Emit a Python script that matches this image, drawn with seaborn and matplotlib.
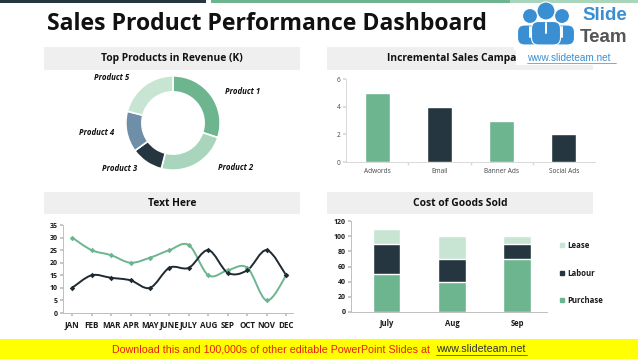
import numpy as np
import pandas as pd
import seaborn as sns
import matplotlib.pyplot as plt
from matplotlib.patches import Rectangle, Circle, FancyBboxPatch, PathPatch
from matplotlib.path import Path
from matplotlib.lines import Line2D

# data
products = ["Product 1", "Product 2", "Product 3", "Product 4", "Product 5"]
revenue = [30, 24, 11, 14, 21]

campaigns = ["Adwords", "Email", "Banner Ads", "Social Ads"]
campaign_sales = [5, 4, 3, 2]

months = ["JAN", "FEB", "MAR", "APR", "MAY", "JUNE", "JULY", "AUG", "SEP", "OCT", "NOV", "DEC"]
series_green = [30, 25, 23, 20, 22, 25, 27, 15, 17, 18, 5, 15]
series_dark = [10, 15, 14, 13, 10, 18, 18, 25, 16, 17, 25, 15]

cogs_months = ["July", "Aug", "Sep"]
purchase = [50, 40, 70]
labour = [40, 30, 20]
lease = [20, 30, 10]

GREEN = "#6db58f"
LIGHT = "#a8d5bb"
PALE = "#c8e5d4"
DARK = "#263640"
STEEL = "#6f8ea8"
HEAD = "#efefef"

sns.set_theme(style="white")
plt.rcParams["font.family"] = ["Open Sans", "DejaVu Sans"]

W, H = 638, 359
fig = plt.figure(figsize=(W / 100, H / 100), dpi=100)


def rect(x0, y0, x1, y1):
    return [x0 / W, 1 - y1 / H, (x1 - x0) / W, (y1 - y0) / H]


def ftext(x, y, s, **kw):
    return fig.text(x / W, 1 - y / H, s, **kw)


def fbox(x0, y0, x1, y1, color):
    fig.patches.append(Rectangle((x0 / W, 1 - y1 / H), (x1 - x0) / W, (y1 - y0) / H,
                                 transform=fig.transFigure, color=color, lw=0, zorder=0))


# top colour strip
fbox(0, 0, 206, 3, DARK)
fbox(211, 0, 510, 3, GREEN)
fbox(510, 0, 638, 3, "#a9d6bb")

ftext(47, 24, "Sales Product Performance Dashboard", fontsize=16.6, fontweight="bold",
      va="center", ha="left", color="#111111")

# panel headers
headers = [(44, 47, 300, 70, "Top Products in Revenue (K)"),
           (327, 47, 593, 70, "Incremental Sales Campaign"),
           (44, 192, 300, 214, "Text Here"),
           (327, 192, 593, 214, "Cost of Goods Sold")]
for x0, y0, x1, y1, t in headers:
    fbox(x0, y0, x1, y1, HEAD)
    ftext((x0 + x1) / 2, (y0 + y1) / 2 + 0.5, t, fontsize=7.4, fontweight="bold",
          ha="center", va="center", color="#111111")

# donut
ax1 = fig.add_axes(rect(123.5, 73.5, 222.5, 172.5))
ax1.pie(revenue, colors=[GREEN, LIGHT, DARK, STEEL, PALE], startangle=90, counterclock=False,
        wedgeprops=dict(width=0.34, edgecolor="white", linewidth=1.2))
ax1.set_xlim(-1.05, 1.05)
ax1.set_ylim(-1.05, 1.05)
cx, cy, r = 173, 123, 47
label_pos = [(242, 92), (235, 167), (120, 168), (97, 132), (112, 78)]
for name, (lx, ly) in zip(products, label_pos):
    ax1.text((lx - cx) / r, (cy - ly) / r, name, fontsize=5.7, fontweight="bold",
             fontstyle="italic", ha="center", va="center", color="#111111")

# incremental sales bars
ax2 = fig.add_axes(rect(346, 79, 595, 162))
df2 = pd.DataFrame({"campaign": campaigns, "sales": campaign_sales})
sns.barplot(data=df2, x="campaign", y="sales", hue="campaign", saturation=1,
            palette=[GREEN, DARK, GREEN, DARK], width=0.4, legend=False, ax=ax2)
ax2.set_ylim(0, 6)
ax2.set_xlim(-0.5, 3.5)
ax2.set_yticks([0, 2, 4, 6])
ax2.set_xlabel("")
ax2.set_ylabel("")
ax2.set_xticks(range(4))
ax2.set_xticklabels(campaigns)
ax2.set_xticks([0.5, 1.5, 2.5], minor=True)
for s in ["top", "right"]:
    ax2.spines[s].set_visible(False)
for s in ["left", "bottom"]:
    ax2.spines[s].set_color("#d9d9d9")
    ax2.spines[s].set_linewidth(0.7)
ax2.tick_params(axis="both", labelsize=4.7, labelcolor="#444444", pad=2)
ax2.tick_params(axis="y", length=2, color="#d9d9d9", left=True)
ax2.tick_params(axis="x", which="major", length=0, pad=4)
ax2.tick_params(axis="x", which="minor", length=2.5, color="#d9d9d9", bottom=True)

# line chart with smooth curves
ax3 = fig.add_axes(rect(63, 225, 293, 313))
x = np.arange(len(months))
for vals, col in [(series_green, GREEN), (series_dark, "#1e2a30")]:
    pts = np.column_stack([x, vals]).astype(float)
    verts = [pts[0]]
    codes = [Path.MOVETO]
    for i in range(len(pts) - 1):
        p0 = pts[max(i - 1, 0)]
        p1 = pts[i]
        p2 = pts[i + 1]
        p3 = pts[min(i + 2, len(pts) - 1)]
        verts += [p1 + (p2 - p0) / 6, p2 - (p3 - p1) / 6, p2]
        codes += [Path.CURVE4] * 3
    ax3.add_patch(PathPatch(Path(verts, codes), fill=False, edgecolor=col, lw=1.4))
    df3 = pd.DataFrame({"m": x, "v": vals})
    sns.lineplot(data=df3, x="m", y="v", ax=ax3, marker="D", markersize=2.8, color=col,
                 markeredgewidth=0, linestyle="none")
ax3.set_xlim(-0.47, 11.35)
ax3.set_ylim(0, 35)
ax3.set_yticks(range(0, 36, 5))
ax3.set_xticks(x)
ax3.set_xticklabels(months)
ax3.set_xlabel("")
ax3.set_ylabel("")
for s in ["top", "right"]:
    ax3.spines[s].set_visible(False)
for s in ["left", "bottom"]:
    ax3.spines[s].set_color("#bfbfbf")
    ax3.spines[s].set_linewidth(0.7)
ax3.tick_params(axis="both", length=2, color="#bfbfbf", left=True, bottom=True, pad=2)
ax3.tick_params(axis="y", labelsize=5)
ax3.tick_params(axis="x", labelsize=5.8, pad=4)
for lab in ax3.get_xticklabels() + ax3.get_yticklabels():
    lab.set_fontweight("bold")
    lab.set_color("#1a1a1a")

# cost of goods stacked bars
ax4 = fig.add_axes(rect(351, 221, 547, 312))
df4 = pd.DataFrame({"month": cogs_months,
                    "Purchase": purchase, "Labour": labour, "Lease": lease})
df4["top1"] = df4["Purchase"] + df4["Labour"]
df4["top2"] = df4["top1"] + df4["Lease"]
sns.barplot(data=df4, x="month", y="top2", color=PALE, width=0.42, saturation=1, ax=ax4)
sns.barplot(data=df4, x="month", y="top1", color=DARK, width=0.42, saturation=1, ax=ax4)
sns.barplot(data=df4, x="month", y="Purchase", color=GREEN, width=0.42, saturation=1, ax=ax4)
ax4.set_ylim(0, 120)
ax4.set_xlim(-0.55, 2.46)
ax4.set_yticks(range(0, 121, 20))
ax4.set_xlabel("")
ax4.set_ylabel("")
for s in ["top", "right"]:
    ax4.spines[s].set_visible(False)
for s in ["left", "bottom"]:
    ax4.spines[s].set_color("#bfbfbf")
    ax4.spines[s].set_linewidth(0.7)
ax4.tick_params(axis="both", length=2, color="#bfbfbf", left=True, pad=2)
ax4.tick_params(axis="x", length=0, labelsize=5.5, pad=5)
ax4.tick_params(axis="y", labelsize=5)
for lab in ax4.get_xticklabels() + ax4.get_yticklabels():
    lab.set_fontweight("bold")
    lab.set_color("#1a1a1a")
handles = [Line2D([], [], marker="s", ls="none", color=c, markersize=3.5)
           for c in [PALE, DARK, GREEN]]
leg = ax4.legend(handles, ["Lease", "Labour", "Purchase"], loc="center left",
                 bbox_to_anchor=(556 / W, 1 - 273 / H), bbox_transform=fig.transFigure,
                 frameon=False, fontsize=5.6, labelspacing=2.4, handletextpad=0.2,
                 handlelength=0.8, borderaxespad=0)
for t in leg.get_texts():
    t.set_fontweight("bold")
    t.set_color("#1a1a1a")

# logo (drawn above the header boxes)
lax = fig.add_axes(rect(512, 0, 638, 70))
lax.set_zorder(10)
lax.patch.set_alpha(0)
lax.set_xlim(512, 638)
lax.set_ylim(70, 0)
lax.axis("off")
lax.add_patch(Rectangle((514, 4), 124, 46, color="white", lw=0))
lax.add_patch(Rectangle((516, 50), 114, 15, color="white", lw=0))
BLUE = "#3a8fd3"
for hx, hy, hr, bw in [(530, 16, 7.5, 25), (562, 16, 7.5, 25), (546, 11, 9, 29)]:
    lax.add_patch(FancyBboxPatch((hx - bw / 2, hy + hr + 1.5), bw, 45 - hy - hr - 1.5,
                                 boxstyle="round,pad=0,rounding_size=7", fc=BLUE,
                                 ec="white", lw=0.8))
    lax.add_patch(Circle((hx, hy), hr, fc=BLUE, ec="white", lw=0.8))
    lax.plot([hx, hx], [hy + hr + 3, hy + hr + 13], color="white", lw=1.4)
lax.text(582, 15, "Slide", fontsize=13.5, fontweight="bold", color=BLUE, va="center",
         family=["Liberation Sans", "DejaVu Sans"])
lax.text(580, 38, "Team", fontsize=13.5, fontweight="bold", color="#555555", va="center",
         family=["Liberation Sans", "DejaVu Sans"])
lax.text(527, 58, "www.slideteam.net", fontsize=7.2, color=BLUE, va="center",
         family=["Liberation Sans", "DejaVu Sans"])
lax.plot([527, 616], [62.5, 62.5], color=BLUE, lw=0.5)

# bottom banner
fbox(0, 339, 638, 359, "#ffff00")
ftext(433, 349, "Download this and 100,000s of other editable PowerPoint Slides at ",
      fontsize=7.7, color="#e8200f", ha="right", va="center",
      family=["Liberation Sans", "DejaVu Sans"])
ftext(436, 349, "www.slideteam.net", fontsize=7.7, color="#333333", ha="left", va="center",
      family=["Liberation Sans", "DejaVu Sans"])
fig.add_artist(Line2D([436 / W, 527 / W], [1 - 354.5 / H, 1 - 354.5 / H], color="#333333", lw=0.5))

fig.savefig("out.png", dpi=100)
